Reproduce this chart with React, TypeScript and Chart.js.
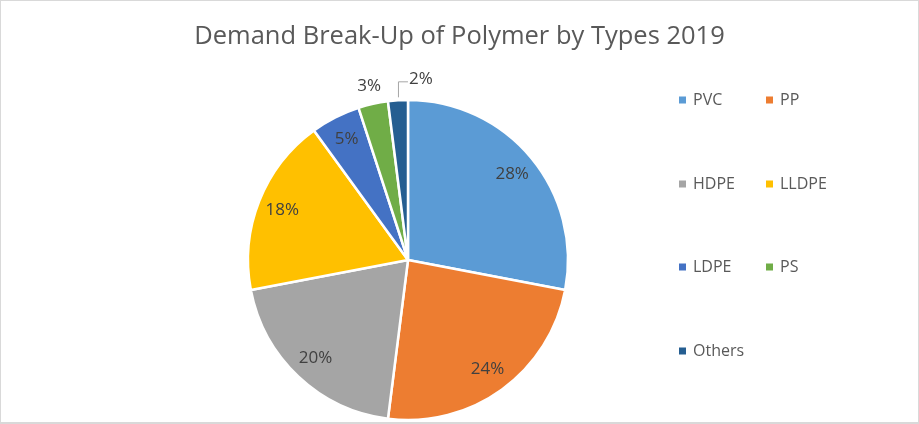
import { useEffect, useRef } from 'react'
import { Chart, registerables, ChartConfiguration, Plugin } from 'chart.js'

Chart.register(...registerables)

const title = 'Demand Break-Up of Polymer by Types 2019'
const categories = ['PVC', 'PP', 'HDPE', 'LLDPE', 'LDPE', 'PS', 'Others']
const shares = [28, 24, 20, 18, 5, 3, 2]
const colors = ['#5B9BD5', '#ED7D31', '#A5A5A5', '#FFC000', '#4472C4', '#70AD47', '#255E91']

const FONT = '"Open Sans", "Liberation Sans", sans-serif'

// title, slice labels and the two-column legend, drawn like Excel does it
const excelBits: Plugin<'pie'> = {
  id: 'excelBits',
  afterDraw(chart) {
    const ctx = chart.ctx
    const meta = chart.getDatasetMeta(0)
    const values = chart.data.datasets[0].data as number[]
    const total = values.reduce((a, b) => a + b, 0)

    ctx.save()

    // title
    ctx.fillStyle = '#595959'
    ctx.font = `25.5px ${FONT}`
    ctx.textAlign = 'center'
    ctx.textBaseline = 'alphabetic'
    ctx.fillText(title, chart.width / 2, 44)

    // data labels
    ctx.font = `17px ${FONT}`
    ctx.textBaseline = 'middle'
    meta.data.forEach((el, i) => {
      const arc = el as any
      const { x, y, startAngle, endAngle, outerRadius } = arc.getProps(
        ['x', 'y', 'startAngle', 'endAngle', 'outerRadius'], true)
      const mid = (startAngle + endAngle) / 2
      const pct = Math.round((values[i] / total) * 100)
      const text = pct + '%'
      ctx.fillStyle = '#404040'
      if (pct >= 4) {
        const r = outerRadius * 0.845
        ctx.textAlign = 'center'
        ctx.fillText(text, x + Math.cos(mid) * r, y + Math.sin(mid) * r)
      } else if (i < values.length - 1) {
        const r = outerRadius + 18
        ctx.textAlign = 'center'
        ctx.fillText(text, x + Math.cos(mid) * r, y + Math.sin(mid) * r)
      } else {
        const ex = x + Math.cos(mid) * outerRadius
        const ey = y + Math.sin(mid) * outerRadius
        const ly = ey - 19
        ctx.strokeStyle = '#A6A6A6'
        ctx.lineWidth = 1
        ctx.beginPath()
        ctx.moveTo(ex + 0.5, ey - 3)
        ctx.lineTo(ex + 0.5, ly + 0.5)
        ctx.lineTo(ex + 10, ly + 0.5)
        ctx.stroke()
        ctx.textAlign = 'left'
        ctx.fillText(text, ex + 11, ly - 2)
      }
    })

    // legend
    const colX = [679, 766]
    const rowY = [100, 184, 267, 351]
    ctx.font = `16px ${FONT}`
    ctx.textAlign = 'left'
    ctx.textBaseline = 'middle'
    categories.forEach((name, i) => {
      const cx = colX[i % 2]
      const cy = rowY[Math.floor(i / 2)]
      ctx.fillStyle = colors[i]
      ctx.fillRect(cx, cy - 3.5, 7, 7)
      ctx.fillStyle = '#595959'
      ctx.fillText(name, cx + 14, cy)
    })

    ctx.restore()
  },
}

export default function App() {
  const chartRef = useRef<HTMLCanvasElement>(null)
  const chartInstance = useRef<Chart | null>(null)

  useEffect(() => {
    if (!chartRef.current) return
    const ctx = chartRef.current.getContext('2d')
    if (!ctx) return

    const config: ChartConfiguration<'pie'> = {
      type: 'pie',
      data: {
        labels: categories,
        datasets: [{
          data: shares,
          backgroundColor: colors,
          borderColor: '#ffffff',
          borderWidth: 2.5,
        }],
      },
      options: {
        responsive: false,
        animation: false,
        radius: 160,
        layout: {
          padding: { left: 0, right: 103, top: 96, bottom: 0 },
        },
        plugins: {
          legend: { display: false },
          title: { display: false },
          tooltip: { enabled: false },
        },
      },
      plugins: [excelBits],
    }

    if (chartInstance.current) chartInstance.current.destroy()
    chartInstance.current = new Chart(ctx, config)

    return () => {
      if (chartInstance.current) {
        chartInstance.current.destroy()
        chartInstance.current = null
      }
    }
  }, [])

  return (
    <div style={{ position: 'fixed', left: 0, top: 0, width: 919, height: 424, background: '#fff' }}>
      <canvas ref={chartRef} width={919} height={424} style={{ position: 'absolute', left: 0, top: 0 }} />
      <div
        style={{
          position: 'absolute', left: 0, top: 0, width: 919, height: 424,
          boxSizing: 'border-box', border: '1px solid #D9D9D9', borderBottomWidth: 2,
          pointerEvents: 'none',
        }}
      />
    </div>
  )
}
